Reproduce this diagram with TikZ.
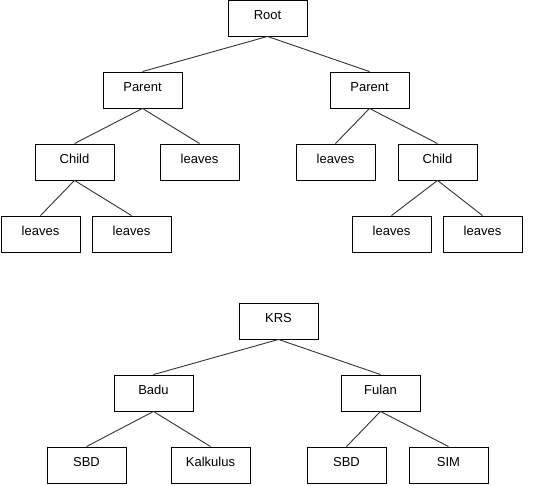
\documentclass[tikz,border=0pt]{standalone}
\usepackage{fontspec}
\setmainfont{Liberation Sans}
\usepackage{tikz}

\tikzset{
  box/.style={draw, line width=0.9pt, minimum width=79pt, minimum height=36pt,
    inner sep=0pt, text height=10pt, text depth=7.4pt, font=\fontsize{13}{15}\selectfont},
  edge/.style={line width=0.9pt, draw=black!80}
}

\begin{document}
\begin{tikzpicture}[x=1pt,y=-1pt]
    \useasboundingbox (0,0) rectangle (554,486);
    % upper tree
    \node[box] (root) at (267.5,18) {Root};
    \node[box] (parL) at (142.5,90) {Parent};
    \node[box] (parR) at (369.5,90) {Parent};
    \node[box] (childL) at (74.5,162) {Child};
    \node[box] (leafA) at (199.5,162) {leaves};
    \node[box] (leafB) at (335.5,162) {leaves};
    \node[box] (childR) at (437.5,162) {Child};
    \node[box] (leafC) at (40.5,234) {leaves};
    \node[box] (leafD) at (131.5,234) {leaves};
    \node[box] (leafE) at (391.5,234) {leaves};
    \node[box] (leafF) at (482.5,234) {leaves};
    % lower tree
    \node[box] (krs) at (278.5,321) {KRS};
    \node[box] (badu) at (153.5,393) {Badu};
    \node[box] (fulan) at (380.5,393) {Fulan};
    \node[box] (sbdA) at (86.5,465) {SBD};
    \node[box] (kalk) at (210.5,465) {Kalkulus};
    \node[box] (sbdB) at (346.5,465) {SBD};
    \node[box] (sim) at (448.5,465) {SIM};
    \foreach \a/\b in {root/parL,root/parR,parL/childL,parL/leafA,parR/leafB,parR/childR,
      childL/leafC,childL/leafD,childR/leafE,childR/leafF,
      krs/badu,krs/fulan,badu/sbdA,badu/kalk,fulan/sbdB,fulan/sim}
    \draw[edge] (\a.south) -- (\b.north);
\end{tikzpicture}
\end{document}
